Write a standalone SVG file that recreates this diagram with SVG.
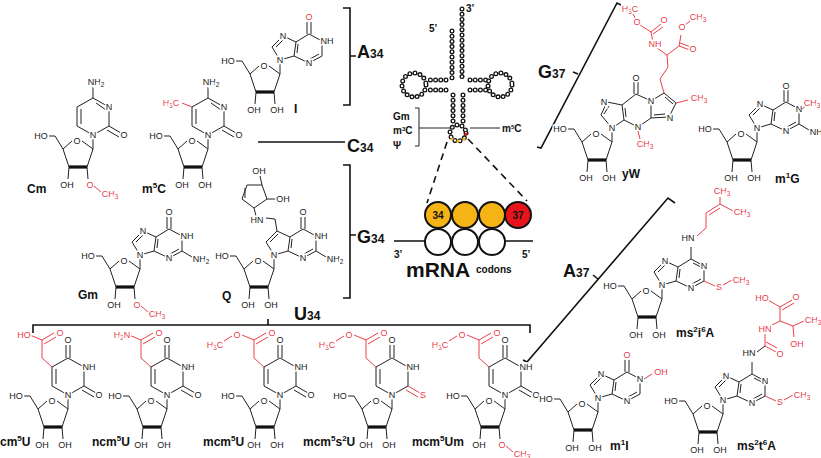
<svg xmlns="http://www.w3.org/2000/svg" xmlns:xlink="http://www.w3.org/1999/xlink" width="821" height="458" viewBox="0 0 821 458">
<style>
.b{fill:none;stroke:#222;stroke-width:1}
.r{fill:none;stroke:#e8404a;stroke-width:1}
.w{fill:none;stroke:#111;stroke-width:3.2}
.k{fill:none;stroke:#111;stroke-width:1.6}
text{font-family:"Liberation Sans",Arial,sans-serif}
.a{font-size:9px;text-anchor:middle;fill:#222;stroke:#fff;stroke-width:3;paint-order:stroke}
.ar{font-size:9px;text-anchor:middle;fill:#e8404a;stroke:#fff;stroke-width:3;paint-order:stroke}
.lb{font-size:12px;font-weight:bold;fill:#111}
.big{font-size:18px;font-weight:bold;fill:#111}
.sm{font-size:10px;font-weight:bold;fill:#111}
.bd1{fill:none;stroke:#111;stroke-width:5;stroke-linecap:round;stroke-dasharray:0 5.2}
.bd2{fill:none;stroke:#fff;stroke-width:2.4;stroke-linecap:round;stroke-dasharray:0 5.2}
</style>
<defs>
<g id="R">
<path class="b" d="M0,0 L-11,-8 M-21,-8 L-30,0 L-24,18 M-6,18 L0,0 M-30,0 L-38,-13 L-44,-13 M-24,18 L-25,30 M-6,18 L-5,30"/>
<path class="w" d="M-24,18 L-6,18"/>
<text class="a" x="-16" y="-5">O</text>
<text class="a" x="-52" y="-10">HO</text>
<text class="a" x="-26" y="39">OH</text>
</g>
<g id="Rib"><use href="#R"/><text class="a" x="-3" y="39">OH</text></g>
<g id="RibM"><use href="#R"/><text class="ar" x="-3" y="39">O</text><path class="r" d="M1,37 L8,43"/><text class="ar" x="17" y="48">CH<tspan font-size="6.5" dy="2">3</tspan></text></g>
<g id="Pyr">
<path class="b" d="M0,14 L0,0 L16,-9 L16,-28 L0,-37 L-16,-28 L-16,-9 L0,0 M-12,-26 L-12,-11 M-2,-37 L-2,-50 M2,-37 L2,-50"/>
<text class="a" x="0" y="3">N</text>
<text class="a" x="21" y="-25">NH</text>
<text class="a" x="0" y="-52">O</text>
<use href="#Rib" y="14"/>
</g>
<g id="C2O"><path class="b" d="M16,-9 L28,-2 M14,-5 L26,2"/><text class="a" x="31" y="3">O</text></g>
<g id="Cyt">
<path class="b" d="M0,14 L0,0 L16,-9 L16,-28 L0,-37 L-16,-28 L-16,-9 L0,0 M-12,-26 L-12,-11 M0,-37 L0,-48 M13,-25 L3,-32"/>
<text class="a" x="0" y="3">N</text>
<text class="a" x="16" y="-25">N</text>
<text class="a" x="3" y="-50">NH<tspan font-size="6.5" dy="2">2</tspan></text>
<use href="#C2O"/>
</g>
<g id="P0">
<path class="b" d="M0,14 L0,0 L-8,-13 L3,-24 L16,-18 L14,-4 L0,0 M-4,-13 L4,-21 M16,-18 L29,-26 L42,-19 L42,-4 L29,3 L14,-4 M17,-7 L18,-16 M39,-6 L30,-1"/>
<text class="a" x="0" y="3">N</text>
<text class="a" x="29" y="6">N</text>
</g>
<g id="P"><use href="#P0"/><text class="a" x="3" y="-21">N</text></g>
<g id="C6O"><path class="b" d="M27,-26 L27,-38 M31,-26 L31,-38"/></g>
<g id="NH1"><text class="a" x="47" y="-16">NH</text></g>
<g id="N1"><text class="a" x="42" y="-16">N</text></g>
<g id="NH2"><path class="b" d="M42,-4 L52,2"/><text class="a" x="61" y="7">NH<tspan font-size="6.5" dy="2">2</tspan></text></g>
<g id="SMe"><path class="r" d="M42,-4 L53,1 M61,0 L70,-5"/><text class="ar" x="57" y="5">S</text><text class="ar" x="79" y="-2">CH<tspan font-size="6.5" dy="2">3</tspan></text></g>
<g id="Ade"><path class="b" d="M29,-26 L29,-38 M31,-22 L39,-18"/><use href="#N1"/></g>
</defs>

<g id="connectors">
<path class="k" d="M343,8 L350,8 L350,105 L343,105 M350,56 L356,56"/>
<path class="k" d="M258,142 L345,142"/>
<path class="k" d="M343,165 L350,165 L350,298 L343,298 M350,235 L356,235"/>
<path class="k" d="M33,333 L33,325 L530,325 L530,333 M268,325 L268,319"/>
<path class="k" d="M537,147 L541,148 L617,3 L621,5 M578,74 L573,72"/>
<path class="k" d="M523,360 L527,362 L668,198 L675,203 M598,279 L593,275"/>
<path class="b" d="M415,108 L419,108 L419,146 L415,146 M419,128 L452,128 M470,128 L500,128" stroke-width="1.2"/>
<path class="k" d="M447,142 L427,203 M468,139 L527,201" stroke-dasharray="7 5" stroke-width="2"/>
<path class="k" d="M394,241 L425,241 M505,241 L533,241" stroke-width="2.2"/>
</g>

<g id="labels">
<text class="big" x="357" y="58">A<tspan font-size="12">34</tspan></text>
<text class="big" x="347" y="152">C<tspan font-size="12">34</tspan></text>
<text class="big" x="357" y="243">G<tspan font-size="12">34</tspan></text>
<text class="big" x="294" y="320">U<tspan font-size="12">34</tspan></text>
<text class="big" x="538" y="78">G<tspan font-size="12">37</tspan></text>
<text class="big" x="563" y="277">A<tspan font-size="12">37</tspan></text>
</g>

<g id="trna">
<path class="bd1" d="M462,9 L462,78 M452,31 L452,78 M446,80 L428,80 M446,90 L428,90 M470,80 L489,80 M470,90 L489,90 M453,95 L453,124 M463,95 L463,124"/>
<path class="bd2" d="M462,9 L462,78 M452,31 L452,78 M446,80 L428,80 M446,90 L428,90 M470,80 L489,80 M470,90 L489,90 M453,95 L453,124 M463,95 L463,124"/>
<circle class="bd1" cx="414" cy="85" r="12"/><circle class="bd2" cx="414" cy="85" r="12"/>
<circle class="bd1" cx="500" cy="85" r="12"/><circle class="bd2" cx="500" cy="85" r="12"/>
<circle class="bd1" cx="458" cy="133" r="8"/><circle class="bd2" cx="458" cy="133" r="8"/>
<circle cx="452" cy="139" r="1.6" fill="#f5b316"/><circle cx="458" cy="141" r="1.6" fill="#f5b316"/><circle cx="464" cy="139" r="1.6" fill="#f5b316"/><circle cx="466" cy="134" r="1.6" fill="#e8141b"/>
<text class="sm" x="429" y="32">5’</text>
<text class="sm" x="466" y="12">3’</text>
<text class="sm" x="393" y="120" font-size="9">Gm</text>
<text class="sm" x="393" y="134" font-size="9">m<tspan font-size="6" dy="-3">3</tspan><tspan dy="3">C</tspan></text>
<text class="sm" x="393" y="149" font-size="9">Ψ</text>
<text class="sm" x="502" y="132" font-size="9">m<tspan font-size="6" dy="-3">5</tspan><tspan dy="3">C</tspan></text>
</g>

<g id="mrna">
<g stroke="#111" stroke-width="2">
<circle cx="438" cy="215" r="13" fill="#f5b316"/><circle cx="465" cy="215" r="13" fill="#f5b316"/><circle cx="492" cy="215" r="13" fill="#f5b316"/><circle cx="518" cy="215" r="13" fill="#e8141b"/>
<circle cx="438" cy="242" r="13" fill="#fff"/><circle cx="465" cy="242" r="13" fill="#fff"/><circle cx="492" cy="242" r="13" fill="#fff"/>
</g>
<text class="sm" x="438" y="219" text-anchor="middle" font-size="11">34</text>
<text class="sm" x="518" y="219" text-anchor="middle" font-size="11">37</text>
<text class="sm" x="394" y="258" font-size="11">3’</text>
<text class="sm" x="522" y="258" font-size="11">5’</text>
<text x="406" y="277" font-size="21" font-weight="bold" fill="#111">mRNA</text>
<text class="sm" x="476" y="273">codons</text>
</g>

<g id="Cm"><use href="#Cyt" x="93" y="135"/><use href="#RibM" x="93" y="149"/><text class="lb" x="27" y="193">Cm</text></g>
<g id="m5C"><use href="#Cyt" x="208" y="135"/><use href="#Rib" x="208" y="149"/><path class="r" d="M192,107 L182,103"/><text class="ar" x="171" y="106">H<tspan font-size="6.5" dy="2">3</tspan><tspan dy="-2">C</tspan></text><text class="lb" x="142" y="193">m<tspan font-size="8" dy="-5">5</tspan><tspan dy="5">C</tspan></text></g>
<g id="I"><use href="#P" x="280" y="60"/><use href="#Rib" x="280" y="74"/><use href="#C6O" x="280" y="60"/><use href="#NH1" x="280" y="60"/><text class="ar" x="309" y="20">O</text><text class="lb" x="294" y="113">I</text></g>
<g id="Gm"><use href="#P" x="140" y="255"/><use href="#RibM" x="140" y="269"/><use href="#C6O" x="140" y="255"/><use href="#NH1" x="140" y="255"/><use href="#NH2" x="140" y="255"/><text class="a" x="169" y="215">O</text><text class="lb" x="78" y="299">Gm</text></g>
<g id="Q"><use href="#P0" x="274" y="255"/><use href="#Rib" x="274" y="269"/><use href="#C6O" x="274" y="255"/><use href="#NH1" x="274" y="255"/><use href="#NH2" x="274" y="255"/><text class="a" x="303" y="215">O</text>
<path class="b" d="M277,231 L275,219 L266,218 M256,216 L254,208 L267,199 L262,185 L247,185 L242,199 L254,208 M245,188 L245,198 M267,199 L276,199 M262,185 L260,176"/>
<text class="a" x="257" y="223">HN</text><text class="a" x="283" y="202">OH</text><text class="a" x="259" y="174">OH</text>
<text class="lb" x="222" y="300">Q</text></g>

<g id="cm5U"><use href="#Pyr" x="68" y="395"/><use href="#C2O" x="68" y="395"/>
<path class="r" d="M52,367 L42,358 L42,340 L30,335 M42,340 L54,333 M44,344 L56,337"/><text class="ar" x="24" y="338">HO</text><text class="ar" x="60" y="336">O</text>
<text class="lb" x="0" y="446">cm<tspan font-size="8" dy="-5">5</tspan><tspan dy="5">U</tspan></text></g>
<g id="ncm5U"><use href="#Pyr" x="167" y="395"/><use href="#C2O" x="167" y="395"/>
<path class="r" d="M151,367 L141,358 L141,340 L129,335 M141,340 L153,333 M143,344 L155,337"/><text class="ar" x="122" y="338">H<tspan font-size="6.5" dy="2">2</tspan><tspan dy="-2">N</tspan></text><text class="ar" x="159" y="336">O</text>
<text class="lb" x="92" y="446">ncm<tspan font-size="8" dy="-5">5</tspan><tspan dy="5">U</tspan></text></g>
<g id="mcm5U"><use href="#Pyr" x="280" y="395"/><use href="#C2O" x="280" y="395"/>
<path class="r" d="M264,367 L254,358 L254,340 L242,335 M232,336 L224,341 M254,340 L266,333 M256,344 L268,337"/><text class="ar" x="237" y="338">O</text><text class="ar" x="215" y="348">H<tspan font-size="6.5" dy="2">3</tspan><tspan dy="-2">C</tspan></text><text class="ar" x="272" y="336">O</text>
<text class="lb" x="203" y="446">mcm<tspan font-size="8" dy="-5">5</tspan><tspan dy="5">U</tspan></text></g>
<g id="mcm5s2U"><use href="#Pyr" x="392" y="395"/>
<path class="r" d="M408,386 L420,393 M406,390 L418,397"/><text class="ar" x="423" y="398">S</text>
<path class="r" d="M376,367 L366,358 L366,340 L354,335 M344,336 L336,341 M366,340 L378,333 M368,344 L380,337"/><text class="ar" x="349" y="338">O</text><text class="ar" x="327" y="348">H<tspan font-size="6.5" dy="2">3</tspan><tspan dy="-2">C</tspan></text><text class="ar" x="384" y="336">O</text>
<text class="lb" x="303" y="446">mcm<tspan font-size="8" dy="-5">5</tspan><tspan dy="5">s</tspan><tspan font-size="8" dy="-5">2</tspan><tspan dy="5">U</tspan></text></g>
<g id="mcm5Um">
<path class="b" d="M505,409 L505,395 L521,386 L521,367 L505,358 L489,367 L489,386 L505,395 M493,369 L493,384 M503,358 L503,345 M507,358 L507,345"/>
<text class="a" x="505" y="398">N</text><text class="a" x="526" y="370">NH</text><text class="a" x="505" y="343">O</text>
<use href="#C2O" x="505" y="395"/><use href="#RibM" x="505" y="409"/>
<path class="r" d="M489,367 L479,358 L479,340 L467,335 M457,336 L449,341 M479,340 L491,333 M481,344 L493,337"/><text class="ar" x="462" y="338">O</text><text class="ar" x="440" y="348">H<tspan font-size="6.5" dy="2">3</tspan><tspan dy="-2">C</tspan></text><text class="ar" x="497" y="336">O</text>
<text class="lb" x="412" y="446">mcm<tspan font-size="8" dy="-5">5</tspan><tspan dy="5">Um</tspan></text></g>

<g id="yW">
<use href="#Rib" x="612" y="142"/>
<path class="b" d="M612,142 L612,128 L601,115 L607,102 L622,105 L624,120 L612,128 M604,114 L609,106 M622,105 L636,94 L651,101 L651,118 L638,127 L624,120 M625,108 L626,117 M634,94 L634,82 M638,94 L638,82 M651,101 L664,93 L676,103 L669,117 L651,118 M665,97 L673,104 M654,115 L665,114"/>
<text class="a" x="612" y="131">N</text><text class="a" x="604" y="105">N</text><text class="a" x="636" y="81">O</text><text class="a" x="651" y="104">N</text><text class="a" x="638" y="130">N</text><text class="a" x="670" y="121">N</text>
<path class="r" d="M638,131 L640,139 M676,103 L688,100 M664,93 L660,79 L668,67 L667,55 L657,48 M667,55 L679,46 L681,35 M679,46 L690,50 M680,43 L691,47 M653,42 L651,32 L640,25 M651,32 L661,24 M653,34 L663,27 M637,21 L633,14 M685,25 L690,21"/>
<text class="ar" x="645" y="147">CH<tspan font-size="6.5" dy="2">3</tspan></text>
<text class="ar" x="699" y="101">CH<tspan font-size="6.5" dy="2">3</tspan></text>
<text class="ar" x="655" y="47">NH</text><text class="ar" x="637" y="25">O</text><text class="ar" x="664" y="23">O</text><text class="ar" x="630" y="12">H<tspan font-size="6.5" dy="2">3</tspan><tspan dy="-2">C</tspan></text>
<text class="ar" x="693" y="52">O</text><text class="ar" x="682" y="30">O</text><text class="ar" x="698" y="20">CH<tspan font-size="6.5" dy="2">3</tspan></text>
<text class="lb" x="622" y="178">yW</text></g>

<g id="m1G"><use href="#P" x="757" y="128"/><use href="#Rib" x="757" y="142"/><use href="#C6O" x="757" y="128"/><use href="#N1" x="757" y="128"/><use href="#NH2" x="757" y="128"/><text class="a" x="786" y="89">O</text>
<path class="r" d="M802,109 L807,105"/><text class="ar" x="812" y="106">CH<tspan font-size="6.5" dy="2">3</tspan></text>
<text class="lb" x="775" y="183">m<tspan font-size="8" dy="-5">1</tspan><tspan dy="5">G</tspan></text></g>

<g id="ms2i6A"><use href="#P" x="662" y="285"/><use href="#Rib" x="662" y="299"/><use href="#Ade" x="662" y="285"/><use href="#SMe" x="662" y="285"/>
<text class="a" x="688" y="241">HN</text>
<path class="r" d="M697,236 L706,228 L706,213 L720,204 L733,211 M709,215 L720,208 M720,204 L720,197"/>
<text class="ar" x="742" y="215">CH<tspan font-size="6.5" dy="2">3</tspan></text><text class="ar" x="722" y="194">CH<tspan font-size="6.5" dy="2">3</tspan></text>
<text class="lb" x="676" y="337">ms<tspan font-size="8" dy="-5">2</tspan><tspan dy="5">i</tspan><tspan font-size="8" dy="-5">6</tspan><tspan dy="5">A</tspan></text></g>

<g id="m1I"><use href="#P" x="598" y="398"/><use href="#Rib" x="598" y="412"/><use href="#C6O" x="598" y="398"/><use href="#N1" x="598" y="398"/>
<text class="ar" x="627" y="358">O</text><path class="r" d="M644,379 L652,374"/><text class="ar" x="661" y="375">OH</text>
<text class="lb" x="610" y="450">m<tspan font-size="8" dy="-5">1</tspan><tspan dy="5">I</tspan></text></g>

<g id="ms2t6A"><use href="#P" x="723" y="400"/><use href="#Rib" x="723" y="414"/><use href="#Ade" x="723" y="400"/><use href="#SMe" x="723" y="400"/>
<text class="a" x="749" y="356">HN</text>
<path class="b" d="M757,352 L765,346"/>
<path class="r" d="M765,346 L776,352 M766,342 L777,348 M765,346 L765,334 M770,326 L780,321 L780,307 L768,300 M780,307 L792,300 M782,310 L794,303 M780,321 L793,326 L806,320 M793,326 L794,337"/>
<text class="ar" x="780" y="357">O</text><text class="ar" x="765" y="332">HN</text><text class="ar" x="762" y="301">HO</text><text class="ar" x="796" y="300">O</text><text class="ar" x="813" y="323">CH<tspan font-size="6.5" dy="2">3</tspan></text><text class="ar" x="797" y="347">OH</text>
<text class="lb" x="737" y="450">ms<tspan font-size="8" dy="-5">2</tspan><tspan dy="5">t</tspan><tspan font-size="8" dy="-5">6</tspan><tspan dy="5">A</tspan></text></g>
</svg>
